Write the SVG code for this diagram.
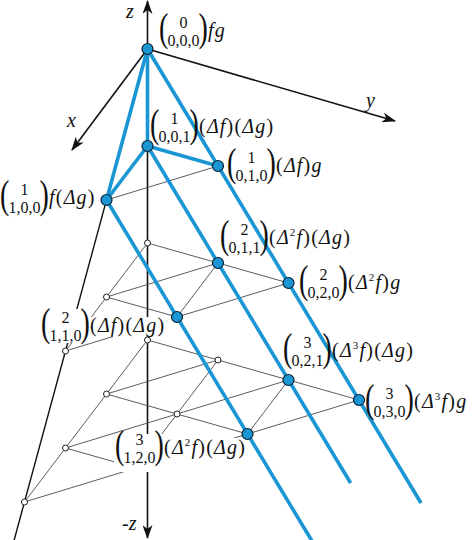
<svg xmlns="http://www.w3.org/2000/svg" width="474" height="540" viewBox="0 0 474 540">
<style>
.g{stroke:#4a4a4a;stroke-width:0.9;fill:none}
.k{stroke:#111;stroke-width:1.4;fill:none}
.ax{stroke:#111;stroke-width:1.6;fill:none}
.b{stroke:#1a96d4;stroke-width:3.6;fill:none}
.bn{fill:#1a96d4;stroke:#0a2030;stroke-width:1.2}
.wn{fill:#fff;stroke:#222;stroke-width:1}
.bg{fill:#fff;stroke:none}
text{font-family:'Liberation Serif','DejaVu Serif','Times New Roman',serif;fill:#111}
.bp{font-size:40px}
.num{font-size:16px;text-anchor:middle}
.tr{font-size:20px;letter-spacing:1.2px}
.i{font-style:italic}
.sup{font-size:11px}
.al{font-size:20px;font-style:italic}
</style>
<defs>
<marker id="ar" viewBox="0 0 14 10" refX="13" refY="5" markerWidth="14" markerHeight="10" markerUnits="userSpaceOnUse" orient="auto">
<path d="M0,0 L14,5 L0,10 L4,5 z" fill="#111"/>
</marker>
</defs>

<g id="axes">
<line class="ax" x1="147.5" y1="49" x2="147.5" y2="1" marker-end="url(#ar)"/>
<line class="ax" x1="147.5" y1="49" x2="147.5" y2="538" marker-end="url(#ar)"/>
<line class="ax" x1="147.5" y1="49" x2="72" y2="150" marker-end="url(#ar)"/>
<line class="ax" x1="147.5" y1="49" x2="395" y2="121" marker-end="url(#ar)"/>
<text class="al" x="126" y="18">z</text>
<text class="al" x="67" y="127">x</text>
<text class="al" x="366" y="107">y</text>
<text class="al" x="122" y="530" font-style="normal">-<tspan font-style="italic">z</tspan></text>
</g>

<g id="connectors">
<line class="k" x1="147.5" y1="49" x2="12.8" y2="545"/>
<line class="g" x1="106.5" y1="200" x2="218" y2="166"/>
<line class="g" x1="65.5" y1="351" x2="288.5" y2="283"/>
<line class="g" x1="106.5" y1="297" x2="218" y2="263"/>
<line class="g" x1="65.5" y1="351" x2="147.5" y2="243"/>
<line class="g" x1="177" y1="317" x2="218" y2="263"/>
<line class="g" x1="288.5" y1="283" x2="147.5" y2="243"/>
<line class="g" x1="177" y1="317" x2="106.5" y2="297"/>
<line class="g" x1="24.5" y1="502" x2="359" y2="400"/>
<line class="g" x1="65.5" y1="448" x2="288.5" y2="380"/>
<line class="g" x1="106.5" y1="394" x2="218" y2="360"/>
<line class="g" x1="24.5" y1="502" x2="147.5" y2="340"/>
<line class="g" x1="136" y1="468" x2="218" y2="360"/>
<line class="g" x1="247.5" y1="434" x2="288.5" y2="380"/>
<line class="g" x1="359" y1="400" x2="147.5" y2="340"/>
<line class="g" x1="247.5" y1="434" x2="106.5" y2="394"/>
<line class="g" x1="136" y1="468" x2="65.5" y2="448"/>
<g id="label-backgrounds">
<rect class="bg" x="40" y="309" width="51" height="34"/>
<rect class="bg" x="91" y="317" width="81" height="20"/>
<rect class="bg" x="114" y="434" width="51" height="38"/>
<rect class="bg" x="165" y="438" width="81" height="22"/>
</g>
<line class="b" x1="147.5" y1="49" x2="147.5" y2="146"/>
<line class="b" x1="147.5" y1="49" x2="106.5" y2="200"/>
<line class="b" x1="147.5" y1="146" x2="106.5" y2="200"/>
<line class="b" x1="147.5" y1="146" x2="218" y2="166"/>
<line class="b" x1="147.5" y1="49" x2="421" y2="503"/>
<line class="b" x1="147.5" y1="146" x2="350.6" y2="483"/>
<line class="b" x1="106.5" y1="200" x2="314.4" y2="545"/>
</g>

<g id="n000">
<g transform="translate(159,31)">
<text class="bp" transform="scale(0.7,1)" y="10">(</text>
<text class="num" x="24.5" y="-3.5">0</text>
<text class="num" x="24.5" y="14.5">0,0,0</text>
<text class="bp" transform="translate(39.5,0) scale(0.7,1)" y="10">)</text>
<text class="tr" x="49" y="6"><tspan class="i">fg</tspan></text>
</g>
<circle class="bn" cx="147.5" cy="49" r="5.5"/>
</g>

<g id="n001">
<g transform="translate(150,127)">
<text class="bp" transform="scale(0.7,1)" y="10">(</text>
<text class="num" x="24.5" y="-3.5">1</text>
<text class="num" x="24.5" y="14.5">0,0,1</text>
<text class="bp" transform="translate(39.5,0) scale(0.7,1)" y="10">)</text>
<text class="tr" x="49" y="6">(<tspan class="i">Δf</tspan>)(<tspan class="i">Δg</tspan>)</text>
</g>
<circle class="bn" cx="147.5" cy="146" r="5.5"/>
</g>

<g id="n010">
<g transform="translate(227,166)">
<text class="bp" transform="scale(0.7,1)" y="10">(</text>
<text class="num" x="24.5" y="-3.5">1</text>
<text class="num" x="24.5" y="14.5">0,1,0</text>
<text class="bp" transform="translate(39.5,0) scale(0.7,1)" y="10">)</text>
<text class="tr" x="49" y="6">(<tspan class="i">Δf</tspan>)<tspan class="i">g</tspan></text>
</g>
<circle class="bn" cx="218" cy="166" r="5.5"/>
</g>

<g id="n100">
<g transform="translate(0,198)">
<text class="bp" transform="scale(0.7,1)" y="10">(</text>
<text class="num" x="24.5" y="-3.5">1</text>
<text class="num" x="24.5" y="14.5">1,0,0</text>
<text class="bp" transform="translate(39.5,0) scale(0.7,1)" y="10">)</text>
<text class="tr" x="49" y="6"><tspan class="i">f</tspan>(<tspan class="i">Δg</tspan>)</text>
</g>
<circle class="bn" cx="106.5" cy="200" r="5.5"/>
</g>

<g id="n011">
<g transform="translate(220,238)">
<text class="bp" transform="scale(0.7,1)" y="10">(</text>
<text class="num" x="24.5" y="-3.5">2</text>
<text class="num" x="24.5" y="14.5">0,1,1</text>
<text class="bp" transform="translate(39.5,0) scale(0.7,1)" y="10">)</text>
<text class="tr" x="49" y="6">(<tspan class="i">Δ</tspan><tspan class="sup" dy="-8">2</tspan><tspan class="i" dy="8">f</tspan>)(<tspan class="i">Δg</tspan>)</text>
</g>
<circle class="bn" cx="218" cy="263" r="5.5"/>
</g>

<g id="n020">
<g transform="translate(299,283)">
<text class="bp" transform="scale(0.7,1)" y="10">(</text>
<text class="num" x="24.5" y="-3.5">2</text>
<text class="num" x="24.5" y="14.5">0,2,0</text>
<text class="bp" transform="translate(39.5,0) scale(0.7,1)" y="10">)</text>
<text class="tr" x="49" y="6">(<tspan class="i">Δ</tspan><tspan class="sup" dy="-8">2</tspan><tspan class="i" dy="8">f</tspan>)<tspan class="i">g</tspan></text>
</g>
<circle class="bn" cx="288.5" cy="283" r="5.5"/>
</g>

<g id="n110">
<g transform="translate(41,326)">
<text class="bp" transform="scale(0.7,1)" y="10">(</text>
<text class="num" x="24.5" y="-3.5">2</text>
<text class="num" x="24.5" y="14.5">1,1,0</text>
<text class="bp" transform="translate(39.5,0) scale(0.7,1)" y="10">)</text>
<text class="tr" x="49" y="6">(<tspan class="i">Δf</tspan>)(<tspan class="i">Δg</tspan>)</text>
</g>
<circle class="bn" cx="177" cy="317" r="5.5"/>
</g>

<g id="n021">
<g transform="translate(283,351)">
<text class="bp" transform="scale(0.7,1)" y="10">(</text>
<text class="num" x="24.5" y="-3.5">3</text>
<text class="num" x="24.5" y="14.5">0,2,1</text>
<text class="bp" transform="translate(39.5,0) scale(0.7,1)" y="10">)</text>
<text class="tr" x="49" y="6">(<tspan class="i">Δ</tspan><tspan class="sup" dy="-8">3</tspan><tspan class="i" dy="8">f</tspan>)(<tspan class="i">Δg</tspan>)</text>
</g>
<circle class="bn" cx="288.5" cy="380" r="5.5"/>
</g>

<g id="n030">
<g transform="translate(365,402)">
<text class="bp" transform="scale(0.7,1)" y="10">(</text>
<text class="num" x="24.5" y="-3.5">3</text>
<text class="num" x="24.5" y="14.5">0,3,0</text>
<text class="bp" transform="translate(39.5,0) scale(0.7,1)" y="10">)</text>
<text class="tr" x="49" y="6">(<tspan class="i">Δ</tspan><tspan class="sup" dy="-8">3</tspan><tspan class="i" dy="8">f</tspan>)<tspan class="i">g</tspan></text>
</g>
<circle class="bn" cx="359" cy="400" r="5.5"/>
</g>

<g id="n120">
<g transform="translate(115,448)">
<text class="bp" transform="scale(0.7,1)" y="10">(</text>
<text class="num" x="24.5" y="-3.5">3</text>
<text class="num" x="24.5" y="14.5">1,2,0</text>
<text class="bp" transform="translate(39.5,0) scale(0.7,1)" y="10">)</text>
<text class="tr" x="49" y="6">(<tspan class="i">Δ</tspan><tspan class="sup" dy="-8">2</tspan><tspan class="i" dy="8">f</tspan>)(<tspan class="i">Δg</tspan>)</text>
</g>
<circle class="bn" cx="247.5" cy="434" r="5.5"/>
</g>

<g id="n002"><circle class="wn" cx="147.5" cy="243" r="3"/></g>
<g id="n101"><circle class="wn" cx="106.5" cy="297" r="3"/></g>
<g id="n200"><circle class="wn" cx="65.5" cy="351" r="3"/></g>
<g id="n003"><circle class="wn" cx="147.5" cy="340" r="3"/></g>
<g id="n012"><circle class="wn" cx="218" cy="360" r="3"/></g>
<g id="n102"><circle class="wn" cx="106.5" cy="394" r="3"/></g>
<g id="n111"><circle class="wn" cx="177" cy="414" r="3"/></g>
<g id="n201"><circle class="wn" cx="65.5" cy="448" r="3"/></g>
<g id="n300"><circle class="wn" cx="24.5" cy="502" r="3"/></g>
</svg>
